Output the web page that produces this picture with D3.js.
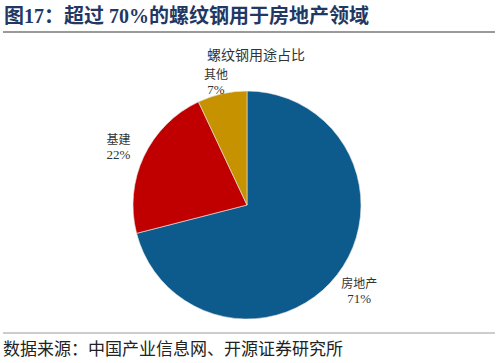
<!DOCTYPE html>
<html>
<head>
<meta charset="utf-8">
<script src="https://cdn.jsdelivr.net/npm/d3@7"></script>
<style>
  body { margin: 0; background: #fff; }
  svg { display: block; }
</style>
</head>
<body>
<svg id="chart" width="500" height="363"></svg>
<script>
const categories = ["房地产", "基建", "其他"];
const shares = [71, 22, 7];
const sliceColors = ["#0d5a8c", "#c00000", "#c69200"];

const width = 500;
const height = 363;
const cx = 247;
const cy = 205;
const radius = 114;
const chartTitleY = 60;
const serif = "'Liberation Serif', 'Noto Sans CJK SC', serif";
const cjk = "'Noto Sans CJK SC', 'Liberation Serif', sans-serif";

const svg = d3.select("#chart");

// header and footer
svg.append("text")
  .attr("x", 4)
  .attr("y", 23)
  .style("font-family", serif)
  .style("font-size", "20px")
  .style("font-weight", 700)
  .style("fill", "#1f3864")
  .text("图17：超过 70%的螺纹钢用于房地产领域");

svg.append("line")
  .attr("x1", 3).attr("x2", 495)
  .attr("y1", 32).attr("y2", 32)
  .attr("stroke", "#9a9a9a")
  .attr("stroke-width", 2);

svg.append("line")
  .attr("x1", 3).attr("x2", 495)
  .attr("y1", 333).attr("y2", 333)
  .attr("stroke", "#9a9a9a")
  .attr("stroke-width", 1);

svg.append("text")
  .attr("x", 3)
  .attr("y", 355)
  .style("font-family", cjk)
  .style("font-size", "17px")
  .style("fill", "#222")
  .text("数据来源：中国产业信息网、开源证券研究所");

svg.append("text")
  .attr("x", 256)
  .attr("y", chartTitleY)
  .attr("text-anchor", "middle")
  .style("font-family", cjk)
  .style("font-size", "14px")
  .style("fill", "#333")
  .text("螺纹钢用途占比");

// pie
const data = categories.map((c, i) => ({ name: c, value: shares[i], color: sliceColors[i] }));
const pie = d3.pie().value((d) => d.value).sort(null);
const arc = d3.arc().innerRadius(0).outerRadius(radius);
const arcs = pie(data);

const pieG = svg.append("g").attr("transform", `translate(${cx},${cy})`);
pieG.selectAll("path")
  .data(arcs)
  .join("path")
  .attr("d", arc)
  .attr("fill", (d) => d.data.color)
  .attr("stroke", "#e8e8e8")
  .attr("stroke-width", 0.6);

// labels sit outside the rim, kept clear of the chart title
const total = d3.sum(shares);
const minLabelY = chartTitleY + 21 - cy;
const labels = pieG.selectAll("g.label")
  .data(arcs)
  .join("g")
  .attr("class", "label")
  .attr("transform", (d) => {
    const a = (d.startAngle + d.endAngle) / 2;
    const x = Math.sin(a) * (radius + 28);
    const y = Math.max(-Math.cos(a) * (radius + 25), minLabelY);
    return `translate(${x},${y})`;
  });

labels.append("text")
  .attr("text-anchor", "middle")
  .attr("y", -2)
  .style("font-family", cjk)
  .style("font-size", "12px")
  .style("fill", "#333")
  .text((d) => d.data.name);

labels.append("text")
  .attr("text-anchor", "middle")
  .attr("y", 13)
  .style("font-family", serif)
  .style("font-size", "13px")
  .style("fill", "#333")
  .text((d) => `${Math.round((d.data.value / total) * 100)}%`);
</script>
</body>
</html>
